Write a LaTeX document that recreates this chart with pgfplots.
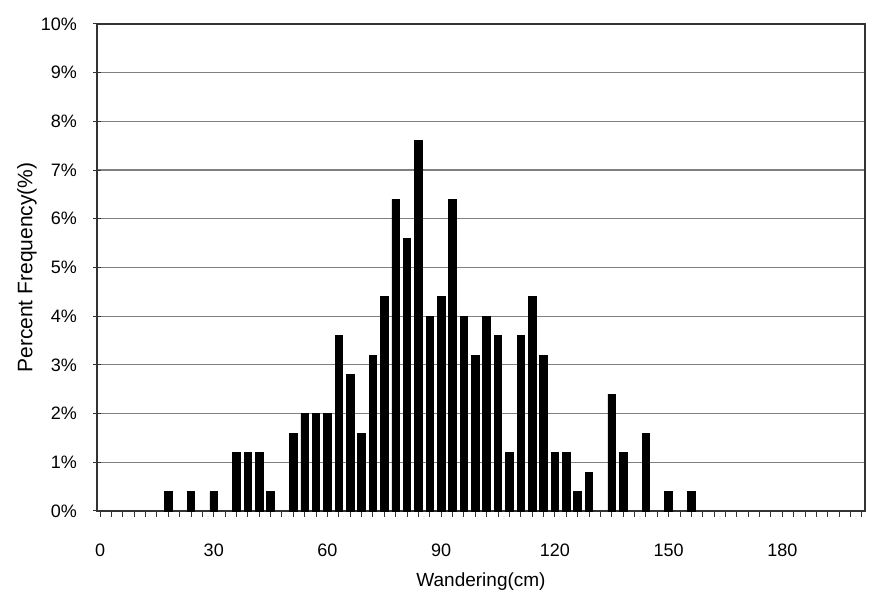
\documentclass[border=0pt]{standalone}
\usepackage{pgfplots}
\pgfplotsset{compat=1.18}
\usepackage{fontspec}
\setmainfont{Liberation Sans}

% percent frequency per 3 cm bin
\begin{document}
\begin{tikzpicture}[font=\fontsize{9}{10}\selectfont]
\begin{axis}[
    scale only axis,
    width=384pt, height=243.5pt,
    xmin=-0.8, xmax=201.8,
    ymin=0, ymax=10,
    ybar, bar width=2.0,
    axis line style={black!80, line width=0.7pt},
    xtick={0,30,...,180},
    minor xtick={0,3,...,201},
    ytick={0,1,...,10},
    yticklabel={\pgfmathprintnumber{\tick}\%},
    /pgf/number format/assume math mode=true,
    ymajorgrids,
    grid style={black!50, line width=0.6pt},
    xtick pos=bottom, ytick pos=left,
    x tick style={black!80, line width=0.5pt},
    y tick style={black!80, line width=0.5pt},
    major x tick style={draw=none},
    minor tick length=3pt,
    xtick align=outside,
    ytick align=center, major tick length=4pt,
    x tick label style={anchor=center, yshift=-15.5pt},
    y tick label style={anchor=east, xshift=-4.5pt},
    xlabel={Wandering(cm)},
    ylabel={Percent Frequency(\%)},
    every axis x label/.style={at={([yshift=-35.5pt]axis description cs:0.5,0)}, anchor=center, font=\fontsize{9.5}{11}\selectfont},
    every axis y label/.style={at={([xshift=-35pt]axis description cs:0,0.5)}, anchor=center, rotate=90, font=\fontsize{10.5}{12}\selectfont},
    clip=false,
]
\addplot[fill=black, draw=black] coordinates {
(18,0.4) (24,0.4) (30,0.4) (36,1.2) (39,1.2) (42,1.2) (45,0.4)
(51,1.6) (54,2.0) (57,2.0) (60,2.0) (63,3.6) (66,2.8) (69,1.6)
(72,3.2) (75,4.4) (78,6.4) (81,5.6) (84,7.6) (87,4.0) (90,4.4)
(93,6.4) (96,4.0) (99,3.2) (102,4.0) (105,3.6) (108,1.2) (111,3.6)
(114,4.4) (117,3.2) (120,1.2) (123,1.2) (126,0.4) (129,0.8)
(135,2.4) (138,1.2) (144,1.6) (150,0.4) (156,0.4)
};
\end{axis}
\path (current axis.south west) ++(-48.5pt,-51pt);
\path (current axis.north east) ++(14pt,12pt);
\end{tikzpicture}
\end{document}
